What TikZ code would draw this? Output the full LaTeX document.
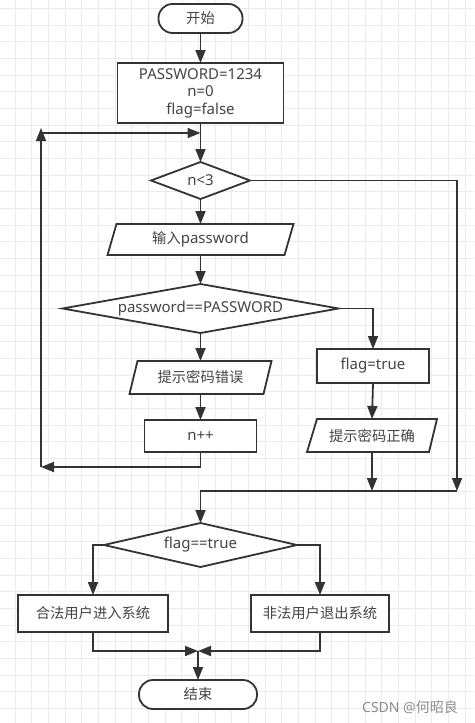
\documentclass[tikz,border=0pt]{standalone}
\usepackage{fontspec}
\setmainfont{Noto Sans}
\newfontfamily\cjk{Noto Sans CJK SC}
\newcommand\zhtext[1]{{\cjk\fontsize{14.3}{17}\selectfont #1}}
\usetikzlibrary{arrows.meta,calc}
\definecolor{ink}{HTML}{333333}
\definecolor{txt}{HTML}{444444}
\definecolor{gridc}{HTML}{EBEBEB}
\begin{document}
\begin{tikzpicture}[x=1pt,y=-1pt,
  base/.style={inner sep=0pt,outer sep=0pt,text=txt,font=\fontsize{15}{17.5}\selectfont,align=center},
  boxed/.style={base,draw=ink,line width=1.8pt,fill=white},
  term/.style={boxed,rounded corners=14pt},
  plain/.style={base},
  shapeline/.style={draw=ink,line width=1.8pt,fill=white,line join=miter},
  line/.style={draw=ink,line width=1.8pt},
  arr/.style={line,-{Triangle[length=13pt,width=10pt]}},
  gridline/.style={draw=gridc,line width=0.8pt}]
\useasboundingbox (0,0) rectangle (474,723);
\fill[white] (0,0) rectangle (474,723);
\foreach \i in {0,...,27} \draw[gridline] ({15+16.667*\i},0) -- ({15+16.667*\i},723);
\foreach \j in {0,...,42} \draw[gridline] (0,{8.33+16.667*\j}) -- (474,{8.33+16.667*\j});

% nodes
\node[term,minimum width=84pt,minimum height=29pt] (start) at (200.5,18.5) {\zhtext{开始}};
\node[boxed,minimum width=166pt,minimum height=60pt] (init) at (200.5,93) {PASSWORD=1234\\n=0\\flag=false};
\node[plain,minimum width=99pt,minimum height=37pt] (d1) at (200.5,180.5) {};
\node[plain,minimum width=186pt,minimum height=31pt] (inp) at (200.5,239.5) {};
\node[plain,minimum width=276pt,minimum height=49pt] (d2) at (200.5,308.5) {};
\node[plain,minimum width=142pt,minimum height=33pt] (err) at (200.5,377.5) {};
\node[boxed,minimum width=112pt,minimum height=32pt] (inc) at (200.5,436) {n++};
\node[boxed,minimum width=112pt,minimum height=34pt] (ft) at (373,366) {flag=true};
\node[plain,minimum width=130pt,minimum height=33pt] (ok) at (372,435.5) {};
\node[plain,minimum width=193pt,minimum height=44pt] (d3) at (200.5,545) {};
\node[boxed,minimum width=150pt,minimum height=37pt] (legal) at (93,613.5) {\zhtext{合法用户进入系统}};
\node[boxed,minimum width=138pt,minimum height=37pt] (illegal) at (320,613.5) {\zhtext{非法用户退出系统}};
\node[term,minimum width=118pt,minimum height=29pt] (end) at (198,694.5) {\zhtext{结束}};

% shapes drawn through node anchors
\draw[shapeline] (d1.north) -- (d1.east) -- (d1.south) -- (d1.west) -- cycle;
\draw[shapeline] (d2.north) -- (d2.east) -- (d2.south) -- (d2.west) -- cycle;
\draw[shapeline] (d3.north) -- (d3.east) -- (d3.south) -- (d3.west) -- cycle;
\draw[shapeline] ([xshift=9pt]inp.north west) -- (inp.north east) -- ([xshift=-9pt]inp.south east) -- (inp.south west) -- cycle;
\draw[shapeline] ([xshift=8pt]err.north west) -- (err.north east) -- ([xshift=-8pt]err.south east) -- (err.south west) -- cycle;
\draw[shapeline] ([xshift=10pt]ok.north west) -- (ok.north east) -- ([xshift=-8pt]ok.south east) -- (ok.south west) -- cycle;

% texts of drawn shapes
\node[base] at (d1) {n<3};
\node[base] at (inp) {\zhtext{输入}password};
\node[base] at (d2) {password==PASSWORD};
\node[base] at (err) {\zhtext{提示密码错误}};
\node[base] at (ok) {\zhtext{提示密码正确}};
\node[base] at (d3) {flag==true};

% helper coordinates
\coordinate (lb) at (41,467);
\coordinate (lt) at (41,128);
\coordinate (lm) at (200.5,133);
\coordinate (r1) at (457,491);
\coordinate (mj) at (198,651);

% connectors
\draw[arr] (start) -- (init);
\draw[arr] (init) -- (d1.north);
\draw[arr] (inc.south) |- (lb);
\draw[arr] (lb) -- (lt);
\draw[arr] (lt |- lm) -- (lm);
\draw[arr] (d1.south) -- (inp.north);
\draw[arr] (inp.south) -- (d2.north);
\draw[arr] (d2.south) -- (err.north);
\draw[arr] (err.south) -- (inc.north);
\draw[arr] (d2.east) -| (ft.north);
\draw[arr] (ft.south) -- (ok.north);
\draw[arr] (ok.south) -- (ok.south |- r1);
\draw[arr] (d1.east) -| (r1);
\draw[arr] (r1) -| (d3.north);
\draw[arr] (d3.west) -| (legal.north);
\draw[arr] (d3.east) -| (illegal.north);
\draw[arr] (legal.south) |- (mj);
\draw[arr] (illegal.south) |- (mj);
\draw[arr] (mj) -- (end.north);

% watermark
\node[inner sep=0pt,text=black!45,font=\fontsize{14}{16}\selectfont] (wm) at (410,707) {CSDN @{\cjk 何昭良}};
\end{tikzpicture}
\end{document}
